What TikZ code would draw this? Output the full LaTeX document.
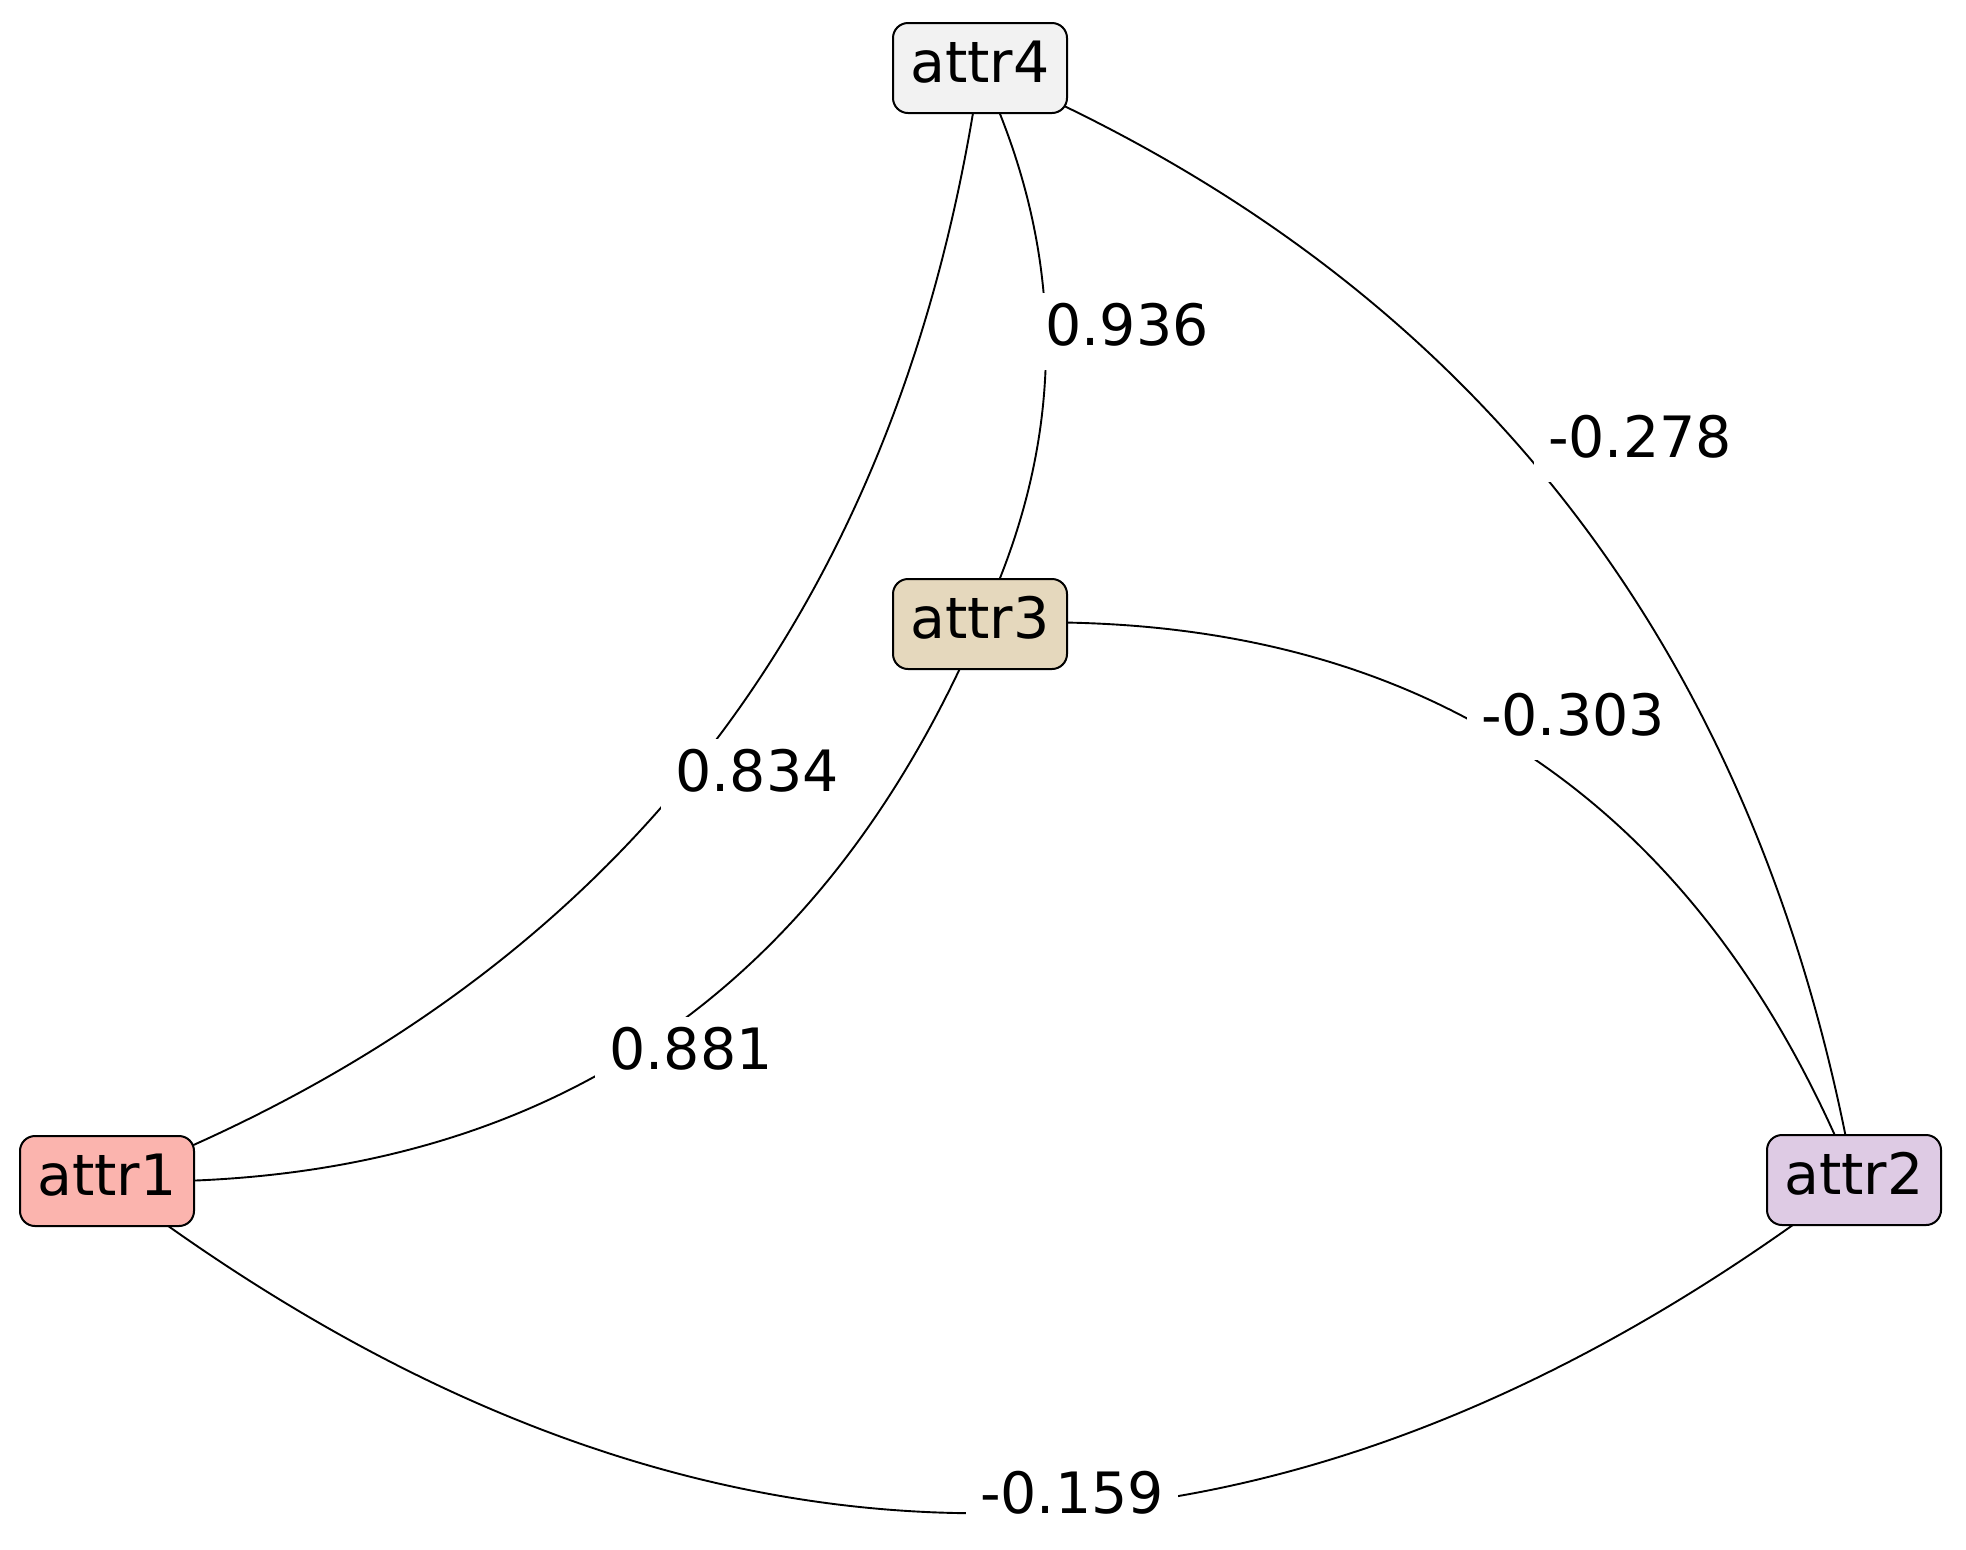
\documentclass[tikz,border=0pt]{standalone}
\usepackage{fontspec}
\setmainfont{DejaVu Sans}
\usetikzlibrary{calc,backgrounds}
\definecolor{cone}{HTML}{FBB4AE}
\definecolor{ctwo}{HTML}{DECBE4}
\definecolor{cthree}{HTML}{E5D8BD}
\definecolor{cfour}{HTML}{F2F2F2}
\begin{document}
\begin{tikzpicture}[x=0.5pt,y=-0.5pt,
  attrbox/.style={draw=black, line width=1pt, rounded corners=7.5pt,
    minimum width=87pt, minimum height=45pt, inner sep=0pt,
    font=\fontsize{28.5}{34}\selectfont, text height=21.7pt, text depth=6.8pt},
  wlabel/.style={fill=white, inner xsep=7pt, inner ysep=5pt,
    font=\fontsize{28.5}{34}\selectfont, text height=21.7pt, text depth=6.8pt},
  link/.style={draw=black, line width=0.95pt}]
\useasboundingbox (0,0) rectangle (1966,1549);
% nodes
\node[attrbox, fill=cfour]  (a4) at (980,68)   {attr4};
\node[attrbox, fill=cthree] (a3) at (980,624)  {attr3};
\node[attrbox, fill=cone]   (a1) at (107,1181) {attr1};
\node[attrbox, fill=ctwo]   (a2) at (1854,1180) {attr2};
% control points (quadratic curves)
\coordinate (q41) at (862,890);
\coordinate (q43) at (1112,346);
\coordinate (q42) at (1710,375);
\coordinate (q32) at (1615,592);
\coordinate (q31) at (733,1199);
\coordinate (q12) at (980,1846);
\begin{scope}[on background layer]
\fill[white] (0,0) rectangle (1966,1549);
\draw[link] (a4.center) .. controls ($(a4.center)!2/3!(q41)$) and ($(a1.center)!2/3!(q41)$) .. (a1.center);
\draw[link] (a4.center) .. controls ($(a4.center)!2/3!(q43)$) and ($(a3.center)!2/3!(q43)$) .. (a3.center);
\draw[link] (a4.center) .. controls ($(a4.center)!2/3!(q42)$) and ($(a2.center)!2/3!(q42)$) .. (a2.center);
\draw[link] (a3.center) .. controls ($(a3.center)!2/3!(q32)$) and ($(a2.center)!2/3!(q32)$) .. (a2.center);
\draw[link] (a3.center) .. controls ($(a3.center)!2/3!(q31)$) and ($(a1.center)!2/3!(q31)$) .. (a1.center);
\draw[link] (a1.center) .. controls ($(a1.center)!2/3!(q12)$) and ($(a2.center)!2/3!(q12)$) .. (a2.center);
\end{scope}
% edge labels
\node[wlabel] (l41) at (757,777)  {0.834};
\node[wlabel] (l43) at (1127,331) {0.936};
\node[wlabel] (l42) at (1640,443) {-0.278};
\node[wlabel] (l32) at (1573,721) {-0.303};
\node[wlabel] (l31) at (691,1055) {0.881};
\node[wlabel] (l12) at (1072,1499) {-0.159};
\end{tikzpicture}
\end{document}
